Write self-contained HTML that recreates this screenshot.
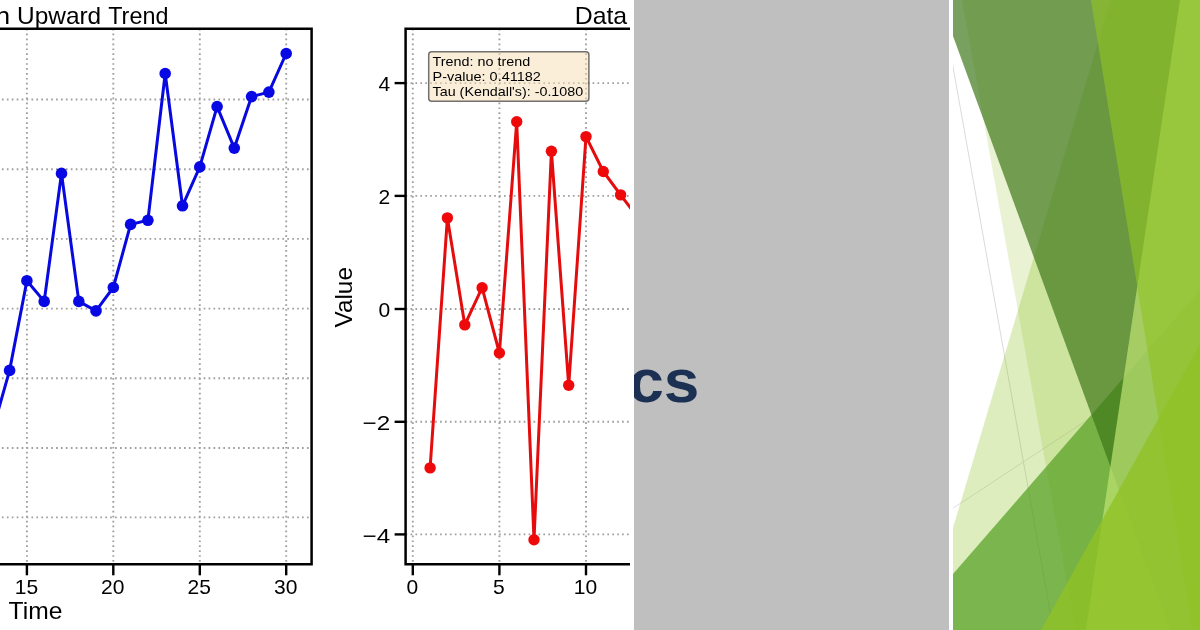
<!DOCTYPE html>
<html lang="en">
<head>
<meta charset="utf-8">
<title>Trend charts</title>
<style>
html,body{margin:0;padding:0;background:#fff;}
body{width:1200px;height:630px;overflow:hidden;font-family:"Liberation Sans",sans-serif;}
svg{display:block;}
text{font-family:"Liberation Sans",sans-serif;}
</style>
</head>
<body>
<div style="will-change:transform;width:1200px;height:630px;">
<svg width="1200" height="630" viewBox="0 0 1200 630">
<defs>
<clipPath id="cFacet"><rect x="953" y="0" width="247" height="630"/></clipPath>
<clipPath id="cGray"><rect x="634" y="0" width="315" height="630"/></clipPath>
<clipPath id="cChart"><rect x="0" y="0" width="630" height="630"/></clipPath>
<clipPath id="cAxL"><rect x="-10" y="29.3" width="321.6" height="535"/></clipPath>
<clipPath id="cAxR"><rect x="405.8" y="29.3" width="224.2" height="535"/></clipPath>
</defs>
<rect x="0" y="0" width="1200" height="630" fill="#ffffff"/>

<g clip-path="url(#cFacet)">
<rect x="953" y="0" width="247" height="630" fill="#ffffff"/>
<line x1="941.1" y1="0" x2="1053.4" y2="630" stroke="#d6d6d6" stroke-width="0.9"/>
<line x1="1200" y1="345.7" x2="900" y2="543.1" stroke="#dcdcdc" stroke-width="0.9"/>
<polygon points="1110.6,0 1210,0 1210,630 922.5,630" fill="#90C226" fill-opacity="0.30"/>
<polygon points="962,0 1210,0 1210,630 1075.4,630" fill="#90C226" fill-opacity="0.20"/>
<polygon points="904.3,630 1200,290 1210,290 1210,630" fill="#54A021" fill-opacity="0.72"/>
<polygon points="939.8,0 1210,0 1210,630 1170.1,630" fill="#3F7819" fill-opacity="0.70"/>
<polygon points="1180,0 1210,0 1210,630 1086,630" fill="#C0E474" fill-opacity="0.70"/>
<polygon points="1091,0 1210,0 1210,630 1192.7,630" fill="#90C226" fill-opacity="0.65"/>
<polygon points="1041,630 1200,344 1210,344 1210,630" fill="#90C226" fill-opacity="0.80"/>
</g>
<rect x="634" y="0" width="315" height="630" fill="#bfbfbf"/>
<g clip-path="url(#cGray)">
<text x="628.2" y="402.3" font-size="62" font-weight="700" fill="#1b3053" textLength="71.2" lengthAdjust="spacingAndGlyphs">cs</text>
</g>
<g clip-path="url(#cChart)">
<rect x="0" y="0" width="630" height="630" fill="#ffffff"/>
<g stroke="#a0a0a0" stroke-width="1.9" stroke-dasharray="1.7 3.22" fill="none">
<line x1="26.9" y1="28.7" x2="26.9" y2="564.2"/>
<line x1="113.3" y1="28.7" x2="113.3" y2="564.2"/>
<line x1="199.8" y1="28.7" x2="199.8" y2="564.2"/>
<line x1="286.2" y1="28.7" x2="286.2" y2="564.2"/>
<line x1="-3" y1="99.5" x2="311.6" y2="99.5"/>
<line x1="-3" y1="169.2" x2="311.6" y2="169.2"/>
<line x1="-3" y1="238.9" x2="311.6" y2="238.9"/>
<line x1="-3" y1="308.6" x2="311.6" y2="308.6"/>
<line x1="-3" y1="378.3" x2="311.6" y2="378.3"/>
<line x1="-3" y1="448.0" x2="311.6" y2="448.0"/>
<line x1="-3" y1="517.4" x2="311.6" y2="517.4"/>
<line x1="412.8" y1="28.7" x2="412.8" y2="564.2"/>
<line x1="499.4" y1="28.7" x2="499.4" y2="564.2"/>
<line x1="586.0" y1="28.7" x2="586.0" y2="564.2"/>
<line x1="405.6" y1="83.1" x2="632" y2="83.1"/>
<line x1="405.6" y1="195.9" x2="632" y2="195.9"/>
<line x1="405.6" y1="309.0" x2="632" y2="309.0"/>
<line x1="405.6" y1="421.8" x2="632" y2="421.8"/>
<line x1="405.6" y1="534.4" x2="632" y2="534.4"/>
</g>
<g clip-path="url(#cAxL)">
<polyline points="-7.7,431.6 9.6,370.4 26.9,280.7 44.2,301.4 61.5,173.4 78.8,301.4 96.0,310.9 113.3,287.5 130.6,224.4 147.9,220.3 165.2,73.5 182.5,205.8 199.8,166.9 217.1,106.6 234.3,148.1 251.6,96.6 268.9,92.1 286.2,53.5" fill="none" stroke="#0808e0" stroke-width="3" stroke-linejoin="round" stroke-linecap="round"/>
</g>
<circle cx="-7.7" cy="431.6" r="5.8" fill="#0808e4"/>
<circle cx="9.6" cy="370.4" r="5.8" fill="#0808e4"/>
<circle cx="26.9" cy="280.7" r="5.8" fill="#0808e4"/>
<circle cx="44.2" cy="301.4" r="5.8" fill="#0808e4"/>
<circle cx="61.5" cy="173.4" r="5.8" fill="#0808e4"/>
<circle cx="78.8" cy="301.4" r="5.8" fill="#0808e4"/>
<circle cx="96.0" cy="310.9" r="5.8" fill="#0808e4"/>
<circle cx="113.3" cy="287.5" r="5.8" fill="#0808e4"/>
<circle cx="130.6" cy="224.4" r="5.8" fill="#0808e4"/>
<circle cx="147.9" cy="220.3" r="5.8" fill="#0808e4"/>
<circle cx="165.2" cy="73.5" r="5.8" fill="#0808e4"/>
<circle cx="182.5" cy="205.8" r="5.8" fill="#0808e4"/>
<circle cx="199.8" cy="166.9" r="5.8" fill="#0808e4"/>
<circle cx="217.1" cy="106.6" r="5.8" fill="#0808e4"/>
<circle cx="234.3" cy="148.1" r="5.8" fill="#0808e4"/>
<circle cx="251.6" cy="96.6" r="5.8" fill="#0808e4"/>
<circle cx="268.9" cy="92.1" r="5.8" fill="#0808e4"/>
<circle cx="286.2" cy="53.5" r="5.8" fill="#0808e4"/>
<polyline points="430.1,467.9 447.4,217.9 464.8,324.9 482.1,287.7 499.4,353.0 516.7,121.8 534.0,539.8 551.4,151.2 568.7,385.3 586.0,136.6 603.3,171.5 620.6,194.9 638.0,217.6" fill="none" stroke="#e40c0c" stroke-width="3" stroke-linejoin="round" stroke-linecap="round"/>
<circle cx="430.1" cy="467.9" r="5.7" fill="#ee0a0a"/>
<circle cx="447.4" cy="217.9" r="5.7" fill="#ee0a0a"/>
<circle cx="464.8" cy="324.9" r="5.7" fill="#ee0a0a"/>
<circle cx="482.1" cy="287.7" r="5.7" fill="#ee0a0a"/>
<circle cx="499.4" cy="353.0" r="5.7" fill="#ee0a0a"/>
<circle cx="516.7" cy="121.8" r="5.7" fill="#ee0a0a"/>
<circle cx="534.0" cy="539.8" r="5.7" fill="#ee0a0a"/>
<circle cx="551.4" cy="151.2" r="5.7" fill="#ee0a0a"/>
<circle cx="568.7" cy="385.3" r="5.7" fill="#ee0a0a"/>
<circle cx="586.0" cy="136.6" r="5.7" fill="#ee0a0a"/>
<circle cx="603.3" cy="171.5" r="5.7" fill="#ee0a0a"/>
<circle cx="620.6" cy="194.9" r="5.7" fill="#ee0a0a"/>
<circle cx="638.0" cy="217.6" r="5.7" fill="#ee0a0a"/>
<path d="M-5,28.7 H311.6 V564.2 H-5" stroke="#000" stroke-width="2.5" fill="none" stroke-linecap="square"/>
<path d="M640,28.7 H405.6 V564.2 H640" stroke="#000" stroke-width="2.5" fill="none" stroke-linecap="square"/>
<g stroke="#000" stroke-width="2.4">
<line x1="26.9" y1="564.2" x2="26.9" y2="575.3"/>
<line x1="113.3" y1="564.2" x2="113.3" y2="575.3"/>
<line x1="199.8" y1="564.2" x2="199.8" y2="575.3"/>
<line x1="286.2" y1="564.2" x2="286.2" y2="575.3"/>
<line x1="412.8" y1="564.2" x2="412.8" y2="575.3"/>
<line x1="499.4" y1="564.2" x2="499.4" y2="575.3"/>
<line x1="586.0" y1="564.2" x2="586.0" y2="575.3"/>
<line x1="394.6" y1="83.1" x2="405.6" y2="83.1"/>
<line x1="394.6" y1="195.9" x2="405.6" y2="195.9"/>
<line x1="394.6" y1="309.0" x2="405.6" y2="309.0"/>
<line x1="394.6" y1="421.8" x2="405.6" y2="421.8"/>
<line x1="394.6" y1="534.4" x2="405.6" y2="534.4"/>
</g>
<text x="26.4" y="593.6" font-size="20.6" text-anchor="middle" textLength="23.4" lengthAdjust="spacingAndGlyphs" fill="#000" >15</text>
<text x="112.8" y="593.6" font-size="20.6" text-anchor="middle" textLength="23.4" lengthAdjust="spacingAndGlyphs" fill="#000" >20</text>
<text x="199.3" y="593.6" font-size="20.6" text-anchor="middle" textLength="23.4" lengthAdjust="spacingAndGlyphs" fill="#000" >25</text>
<text x="285.7" y="593.6" font-size="20.6" text-anchor="middle" textLength="23.4" lengthAdjust="spacingAndGlyphs" fill="#000" >30</text>
<text x="412.3" y="593.6" font-size="20.6" text-anchor="middle" textLength="11.7" lengthAdjust="spacingAndGlyphs" fill="#000" >0</text>
<text x="498.9" y="593.6" font-size="20.6" text-anchor="middle" textLength="11.7" lengthAdjust="spacingAndGlyphs" fill="#000" >5</text>
<text x="585.5" y="593.6" font-size="20.6" text-anchor="middle" textLength="23.4" lengthAdjust="spacingAndGlyphs" fill="#000" >10</text>
<text x="390.2" y="91.4" font-size="20.6" text-anchor="end" textLength="11.7" lengthAdjust="spacingAndGlyphs" fill="#000" >4</text>
<text x="390.2" y="204.2" font-size="20.6" text-anchor="end" textLength="11.7" lengthAdjust="spacingAndGlyphs" fill="#000" >2</text>
<text x="390.2" y="317.3" font-size="20.6" text-anchor="end" textLength="11.7" lengthAdjust="spacingAndGlyphs" fill="#000" >0</text>
<text x="390.2" y="430.1" font-size="20.6" text-anchor="end" textLength="27.6" lengthAdjust="spacingAndGlyphs" fill="#000" >−2</text>
<text x="390.2" y="542.7" font-size="20.6" text-anchor="end" textLength="27.6" lengthAdjust="spacingAndGlyphs" fill="#000" >−4</text>
<text x="35.5" y="619.0" font-size="23.2" text-anchor="middle" textLength="53.8" lengthAdjust="spacingAndGlyphs" fill="#000" >Time</text>
<text transform="translate(352.1,297.3) rotate(-90)" font-size="23.2" text-anchor="middle" textLength="60.4" lengthAdjust="spacingAndGlyphs" fill="#000">Value</text>
<text x="-96.2" y="24.2" font-size="23.2" text-anchor="start" textLength="52.5" lengthAdjust="spacingAndGlyphs" fill="#000" >Data</text>
<text x="-36.7" y="24.2" font-size="23.2" text-anchor="start" textLength="46.7" lengthAdjust="spacingAndGlyphs" fill="#000" >with</text>
<text x="17.0" y="24.2" font-size="23.2" text-anchor="start" textLength="84.2" lengthAdjust="spacingAndGlyphs" fill="#000" >Upward</text>
<text x="108.2" y="24.2" font-size="23.2" text-anchor="start" textLength="60.2" lengthAdjust="spacingAndGlyphs" fill="#000" >Trend</text>
<text x="574.7" y="24.2" font-size="23.2" text-anchor="start" textLength="52.5" lengthAdjust="spacingAndGlyphs" fill="#000" >Data</text>
<text x="634.2" y="24.2" font-size="23.2" text-anchor="start" textLength="46.7" lengthAdjust="spacingAndGlyphs" fill="#000" >with</text>
<text x="687.9" y="24.2" font-size="23.2" text-anchor="start" textLength="29.9" lengthAdjust="spacingAndGlyphs" fill="#000" >No</text>
<text x="724.8" y="24.2" font-size="23.2" text-anchor="start" textLength="60.2" lengthAdjust="spacingAndGlyphs" fill="#000" >Trend</text>
<rect x="428.7" y="51.7" width="160.2" height="49.6" rx="3" ry="3" fill="#f5deb3" fill-opacity="0.5" stroke="#000" stroke-opacity="0.55" stroke-width="1.5"/>
<text x="432.6" y="65.8" font-size="13.6" text-anchor="start" textLength="97.6" lengthAdjust="spacingAndGlyphs" fill="#000" >Trend: no trend</text>
<text x="432.6" y="80.7" font-size="13.6" text-anchor="start" textLength="108.2" lengthAdjust="spacingAndGlyphs" fill="#000" >P-value: 0.41182</text>
<text x="432.6" y="95.5" font-size="13.6" text-anchor="start" textLength="150.6" lengthAdjust="spacingAndGlyphs" fill="#000" >Tau (Kendall's): -0.1080</text>
</g>
</svg>
</div>
</body>
</html>
